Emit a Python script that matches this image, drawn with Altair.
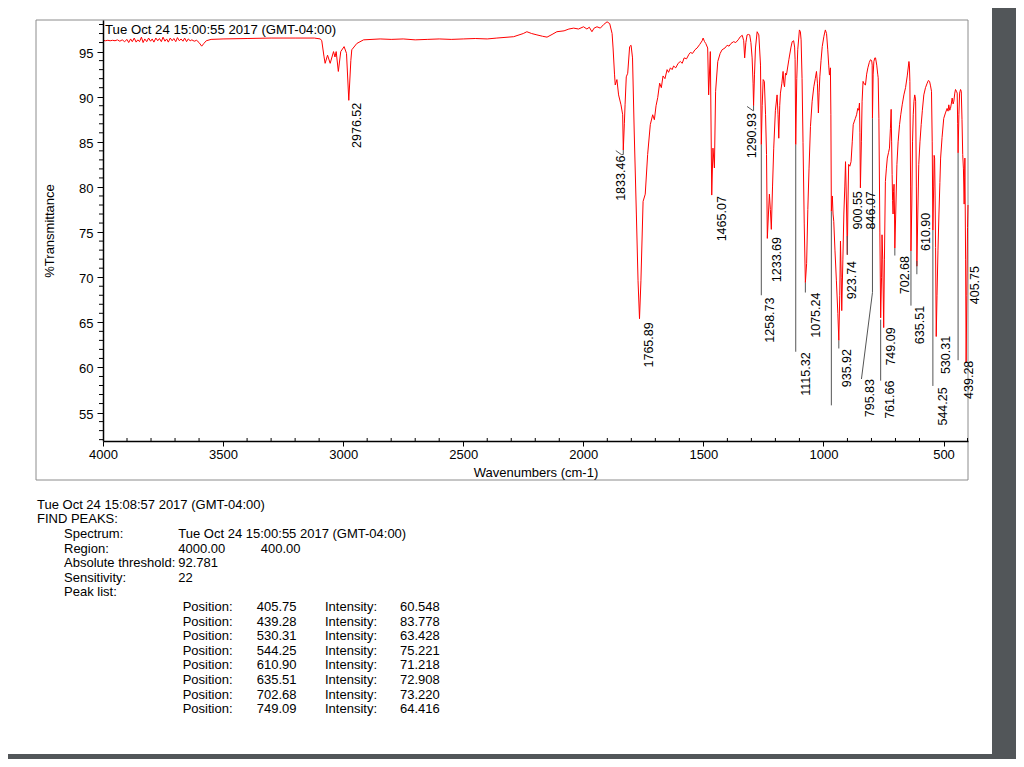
import altair as alt
import pandas as pd

# ---------------- spectrum (wavenumber cm-1, %T) ----------------
wavenumber = [
    4000, 3990, 3980, 3970, 3960, 3950, 3940, 3930, 3920, 3910, 3900, 3893, 3885, 3878, 3870,
    3862, 3855, 3848, 3840, 3833, 3826, 3818, 3810, 3802, 3795, 3788, 3780, 3772, 3765, 3757,
    3750, 3742, 3735, 3728, 3720, 3712, 3705, 3697, 3690, 3682, 3675, 3667, 3660, 3652, 3645,
    3637, 3630, 3620, 3610, 3600, 3589, 3580, 3570, 3550, 3500, 3400, 3300, 3200, 3120, 3095,
    3089, 3080, 3075, 3065, 3054, 3040, 3034, 3029, 3020, 3010, 2996, 2986, 2976.52, 2968, 2964,
    2943, 2915, 2846, 2800, 2750, 2700, 2650, 2600, 2550, 2500, 2450, 2400, 2360, 2290, 2250,
    2235, 2215, 2193, 2170, 2151, 2130, 2110, 2080, 2060, 2040, 2020, 1999, 1985, 1975, 1964,
    1955, 1943, 1929, 1915, 1901, 1890, 1880, 1876, 1870, 1867, 1860, 1853, 1843, 1836, 1833.46,
    1829, 1826, 1821, 1815, 1807, 1801, 1795, 1788, 1779, 1772, 1765.89, 1760, 1751, 1742, 1732,
    1721, 1711, 1704, 1697, 1690, 1682, 1675, 1668, 1660, 1651, 1645, 1637, 1630, 1624, 1615,
    1605, 1596, 1588, 1580, 1570, 1560, 1554, 1545, 1535, 1526, 1515, 1505, 1501, 1495, 1490,
    1482, 1478, 1471, 1465.07, 1460, 1454, 1449, 1440, 1430, 1422, 1410, 1401, 1393, 1385, 1374,
    1365, 1355, 1346, 1338, 1332, 1328, 1323, 1318, 1312, 1307, 1302, 1297, 1293, 1290.93, 1287,
    1283, 1276, 1269, 1262, 1258.73, 1255, 1251, 1246, 1241, 1237, 1233.69, 1229, 1225, 1221, 1217,
    1212, 1207, 1200, 1193, 1189, 1186, 1182, 1179, 1173, 1168, 1165, 1162, 1158, 1154, 1144,
    1135, 1130, 1124, 1120, 1118, 1115.32, 1111, 1107, 1100, 1096, 1093, 1089, 1085, 1080, 1075.24,
    1070, 1065, 1060, 1054, 1047, 1040, 1034, 1029, 1025, 1021, 1018, 1015, 1010, 1005, 998,
    992, 987, 982, 978, 975, 971, 969, 967, 963, 960, 957, 952, 946, 940, 935.92,
    932, 929, 926, 923.74, 919, 915, 911, 908, 904, 900.55, 898, 895, 890, 885, 880,
    876, 871, 867, 862, 857, 853, 850, 848, 846.07, 842, 839, 835, 830, 825, 820,
    815, 809, 804, 799, 797, 795.83, 793, 790, 786, 783, 778, 774, 772, 769, 765,
    761.66, 758, 756, 753, 749.09, 746, 742, 738, 734, 729, 725, 721, 718, 716, 714,
    712, 710, 708, 706, 704, 702.68, 699, 694, 689, 683, 678, 672, 665, 658, 651,
    644, 642, 640, 637, 635.51, 632, 629, 626, 623, 620, 618, 616, 613, 610.90, 607,
    603, 598, 593, 588, 582, 575, 568, 563, 558, 554, 550, 547, 544.25, 541, 539,
    537, 535, 533, 530.31, 527, 523, 519, 515, 512, 506, 499, 492, 485, 481, 478,
    474, 471, 467, 464, 460, 457, 453, 450, 446, 443, 441, 439.28, 436, 433, 429,
    426, 423, 420, 417, 414, 412, 411, 408, 405.75, 403, 400, 398,
]
transmittance = [
    96.25, 96.2, 96.25, 96.2, 96.25, 96.2, 96.3, 96.15, 96.3, 96.1, 96.35, 96.0, 96.4, 96.1, 96.5,
    96.05, 96.3, 96.1, 96.6, 96.0, 96.4, 96.1, 96.5, 96.15, 96.4, 96.05, 96.5, 96.2, 96.45, 96.1,
    96.6, 96.15, 96.4, 96.05, 96.5, 96.2, 96.45, 96.1, 96.55, 96.2, 96.4, 96.15, 96.5, 96.1, 96.4,
    96.2, 96.3, 96.15, 96.25, 96.0, 95.6, 95.9, 96.2, 96.35, 96.4, 96.45, 96.5, 96.5, 96.5, 96.4,
    96.2, 94.5, 93.7, 94.6, 93.7, 95.0, 94.4, 95.0, 92.8, 95.0, 95.55, 94.8, 89.6, 94.0, 95.2,
    95.9, 96.3, 96.4, 96.35, 96.4, 96.3, 96.35, 96.4, 96.35, 96.4, 96.45, 96.4, 96.5, 96.65, 97.0,
    97.2, 97.0, 96.85, 96.7, 96.6, 96.9, 97.2, 97.3, 97.5, 97.6, 97.5, 97.75, 97.5, 97.7, 97.2,
    97.6, 97.75, 97.6, 98.0, 98.3, 98.1, 97.0, 95.4, 92.5, 91.3, 91.9, 90.2, 89.1, 88.0, 84.1,
    87.0, 89.1, 92.2, 92.6, 95.55, 95.7, 94.3, 86.2, 77.0, 69.6, 65.4, 69.6, 78.4, 79.2, 83.6,
    86.9, 88.0, 87.45, 89.0, 89.9, 91.5, 91.0, 92.3, 92.0, 93.0, 92.7, 93.2, 93.0, 93.4, 93.2,
    93.7, 93.9, 93.7, 94.3, 94.2, 94.7, 94.9, 94.8, 95.2, 95.4, 95.8, 96.2, 96.5, 96.1, 95.9,
    95.4, 90.2, 95.0, 79.1, 84.3, 82.1, 90.6, 93.9, 94.8, 95.2, 95.4, 95.7, 95.6, 95.9, 96.1,
    96.0, 96.3, 96.65, 96.8, 96.2, 94.3, 96.0, 96.85, 96.9, 96.85, 96.0, 94.3, 91.5, 89.0, 92.5,
    95.4, 97.2, 96.85, 93.5, 84.7, 89.0, 91.9, 91.7, 88.0, 83.6, 74.3, 77.0, 79.2, 77.5, 75.3,
    80.0, 84.3, 88.5, 90.2, 88.0, 85.4, 89.0, 90.4, 91.5, 92.8, 91.5, 91.1, 92.6, 92.4, 94.1,
    95.5, 96.1, 96.2, 95.5, 94.1, 84.7, 92.0, 95.2, 97.4, 97.2, 96.3, 92.0, 84.9, 76.0, 69.4,
    71.5, 77.5, 82.0, 86.7, 89.5, 91.1, 92.0, 92.8, 91.5, 88.2, 90.5, 92.2, 94.0, 95.55, 96.7,
    97.4, 97.0, 95.2, 93.5, 92.4, 93.2, 88.0, 77.3, 79.0, 77.0, 76.2, 73.0, 69.6, 66.0, 63.0,
    68.0, 74.0, 70.0, 66.3, 72.0, 77.0, 80.0, 82.8, 78.0, 72.5, 78.0, 82.5, 82.3, 82.8, 85.0,
    86.9, 87.3, 87.6, 88.0, 88.7, 88.5, 89.3, 86.0, 79.9, 85.0, 89.5, 91.7, 91.4, 91.3, 92.5,
    93.2, 93.8, 94.1, 94.0, 93.5, 87.6, 92.5, 93.9, 94.3, 94.3, 93.5, 92.5, 92.1, 87.6, 75.0,
    65.5, 70.0, 74.7, 72.0, 64.416, 72.0, 80.6, 82.0, 83.2, 83.8, 84.3, 86.5, 88.6, 85.0, 81.4,
    78.5, 77.0, 79.5, 80.3, 77.0, 73.22, 77.0, 82.5, 85.0, 86.9, 88.0, 89.1, 90.2, 91.0, 92.3,
    93.9, 93.5, 91.7, 80.0, 72.908, 78.0, 85.0, 88.0, 89.5, 90.2, 90.0, 89.5, 80.0, 71.218, 77.0,
    82.5, 85.0, 86.9, 88.5, 90.2, 91.0, 91.5, 91.8, 91.7, 91.2, 90.6, 85.0, 75.221, 80.0, 83.5,
    83.2, 79.0, 73.3, 63.428, 68.0, 73.0, 77.0, 80.5, 83.2, 85.5, 87.6, 88.2, 88.7, 88.4, 89.1,
    88.5, 88.7, 89.3, 89.85, 89.2, 89.5, 90.4, 90.8, 90.6, 90.4, 87.0, 83.778, 88.0, 90.4, 90.8,
    90.6, 87.5, 83.6, 82.0, 78.1, 81.0, 83.2, 72.0, 60.548, 68.0, 75.5, 78.0,
]

# ---------------- peak labels (text, anchor wavenumber, %T at label top) ----------------
peak_label_text = [
    "2976.52", "1833.46", "1765.89", "1465.07", "1290.93", "1258.73", "1233.69", "1115.32",
    "1075.24", "935.92", "923.74", "900.55", "846.07", "795.83", "761.66", "749.09",
    "702.68", "635.51", "610.90", "544.25", "530.31", "439.28", "405.75",
]
peak_label_wn = [
    2967.5, 1867.5, 1750.8, 1448.7, 1321.7, 1246.7, 1216.7, 1099.6,
    1057.9, 925.0, 907.9, 881.5, 828.8, 833.0, 746.7, 744.0,
    684.0, 624.6, 596.7, 525.4, 513.0, 419.6, 395.6,
]
peak_label_t = [
    89.33, 83.47, 65.0, 78.98, 88.19, 67.75, 74.45, 61.67,
    68.3, 62.04, 71.8, 79.53, 79.53, 58.72, 58.54, 64.44,
    72.35, 66.82, 77.14, 57.8, 63.5, 60.75, 71.24,
]

# leader lines from peak tips to labels (wavenumber, %T)
leader_lines = [
    [(1833.46, 84.1), (1833.46, 83.59), (1841.7, 83.59), (1864.6, 84.03)],
    [(1290.93, 89.0), (1290.93, 88.45), (1293.0, 88.45), (1318.0, 88.92)],
    [(1258.73, 84.7), (1258.73, 68.0)],
    [(1115.32, 84.7), (1115.32, 61.74)],
    [(1075.24, 69.4), (1075.24, 68.3)],
    [(967.0, 77.3), (967.0, 55.8)],
    [(935.92, 63.0), (935.92, 62.1)],
    [(900.55, 74.56), (900.55, 72.5)],
    [(795.83, 87.6), (795.83, 68.3), (841.7, 58.72)],
    [(761.66, 65.3), (761.66, 58.54)],
    [(702.68, 73.22), (702.68, 72.4)],
    [(635.51, 72.908), (635.51, 66.85)],
    [(610.90, 71.8), (610.90, 70.33)],
    [(544.25, 75.221), (544.25, 57.95)],
    [(439.28, 83.778), (439.28, 60.8)],
]

# ---------------- axes ----------------
x_major_ticks = [4000, 3500, 3000, 2500, 2000, 1500, 1000, 500]
x_minor_ticks = [3900, 3800, 3700, 3600, 3400, 3300, 3200, 3100, 2900, 2800, 2700, 2600,
                 2400, 2300, 2200, 2100, 1900, 1800, 1700, 1600, 1400, 1300, 1200, 1100,
                 900, 800, 700, 600, 400]
y_major_ticks = [55, 60, 65, 70, 75, 80, 85, 90, 95]
y_minor_ticks = [52, 53, 54, 56, 57, 58, 59, 61, 62, 63, 64, 66, 67, 68, 69, 71, 72, 73, 74,
                 76, 77, 78, 79, 81, 82, 83, 84, 86, 87, 88, 89, 91, 92, 93, 94, 96, 97, 98]

spectrum_title = "Tue Oct 24 15:00:55 2017 (GMT-04:00)"
x_title = "Wavenumbers (cm-1)"
y_title = "%Transmittance"

# ---------------- report text below the chart ----------------
report_header = ["Tue Oct 24 15:08:57 2017 (GMT-04:00)", "FIND PEAKS:"]
report_params = ["Spectrum:", "Region:", "Absolute threshold:", "Sensitivity:", "Peak list:"]
report_values = ["Tue Oct 24 15:00:55 2017 (GMT-04:00)", "4000.00", "92.781", "22"]
report_region_end = ["400.00"]
peak_positions = [405.75, 439.28, 530.31, 544.25, 610.90, 635.51, 702.68, 749.09]
peak_intensities = [60.548, 83.778, 63.428, 75.221, 71.218, 72.908, 73.220, 64.416]

# ---------------- data frames ----------------
spec_df = pd.DataFrame({"wn": wavenumber, "T": transmittance})
spec_df["idx"] = range(len(spec_df))
label_df = pd.DataFrame({"label": peak_label_text, "wn": peak_label_wn, "T": peak_label_t})
leader_rows = []
for i, line in enumerate(leader_lines):
    for k, (w, t) in enumerate(line):
        leader_rows.append({"id": i, "k": k, "wn": w, "T": t})
leader_df = pd.DataFrame(leader_rows)
xminor_df = pd.DataFrame({"wn": x_minor_ticks})
yminor_df = pd.DataFrame({"T": y_minor_ticks})

header_df = pd.DataFrame({"row": [0, 1], "text": report_header})
params_df = pd.DataFrame({"row": [2, 3, 4, 5, 6], "text": report_params})
values_df = pd.DataFrame({"row": [2, 3, 4, 5], "text": report_values})
region_df = pd.DataFrame({"row": [3], "text": report_region_end})
peaks_df = pd.DataFrame({
    "row": list(range(7, 7 + len(peak_positions))),
    "pos": peak_positions,
    "inten": peak_intensities,
    "plabel": ["Position:"] * len(peak_positions),
    "ilabel": ["Intensity:"] * len(peak_positions),
})

# ---------------- chart ----------------
FONT = "Liberation Sans"
W, H = 865, 421
xs = alt.Scale(domain=[398, 4000], reverse=True, nice=False, zero=False)
ys = alt.Scale(domain=[51.85, 98.5], nice=False, zero=False)

x_axis = alt.Axis(values=x_major_ticks, format="d", title=x_title, tickSize=5, labelPadding=2,
                  domainColor="black", domainWidth=1.5, tickColor="black", labelColor="black",
                  labelFontSize=13, titleFontSize=13, titleFontWeight="normal", titleColor="black",
                  titleX=432.5, titleY=35, titleBaseline="alphabetic", grid=False,
                  labelFlush=False, labelOverlap=False, zindex=1)
y_axis = alt.Axis(values=y_major_ticks, title=y_title, tickSize=6, labelPadding=4,
                  domainColor="black", domainWidth=1.5, tickColor="black", labelColor="black",
                  labelFontSize=13, titleFontSize=13, titleFontWeight="normal", titleColor="black",
                  titleX=-54, titleY=H / 2, titleAngle=270, titleAlign="center",
                  titleBaseline="middle", grid=False, labelOffset=1.5, labelOverlap=False,
                  zindex=1)


def X():
    return alt.X("wn:Q", scale=xs, axis=x_axis)


def Y():
    return alt.Y("T:Q", scale=ys, axis=y_axis)


page = alt.Chart().mark_rect(fill="white").encode(
    x=alt.value(-100), x2=alt.value(889), y=alt.value(-20), y2=alt.value(734))
frame = alt.Chart().mark_rect(fillOpacity=0, stroke="#8c8c8c", strokeWidth=1).encode(
    x=alt.value(-67), x2=alt.value(W), y=alt.value(0), y2=alt.value(460))

line = alt.Chart(spec_df).mark_line(color="#ff0000", strokeWidth=1).encode(
    x=X(), y=Y(), order="idx:Q")

y_minor = alt.Chart(yminor_df).mark_rule(color="black", strokeWidth=1).encode(
    y=Y(), x=alt.value(-4), x2=alt.value(0))
x_minor = alt.Chart(xminor_df).mark_rule(color="black", strokeWidth=1).encode(
    x=X(), y=alt.value(H - 3), y2=alt.value(H))

leaders = alt.Chart(leader_df).mark_line(color="#555555", strokeWidth=1).encode(
    x=X(), y=Y(), detail="id:N", order="k:Q")

labels = alt.Chart(label_df).mark_text(angle=270, align="right", baseline="top",
                                       fontSize=12.5, color="black").encode(
    x=X(), y=Y(), text="label:N")

title = alt.Chart().mark_text(text=spectrum_title, align="left", baseline="middle",
                              fontSize=13.2, color="black").encode(
    x=alt.value(2), y=alt.value(10))

spectrum = alt.layer(page, frame, line, y_minor, x_minor, leaders, labels, title)

rows = alt.Scale(domain=[0, 14], range=[484.7, 689.3], nice=False, zero=False)


def text_col(df, px, field, fmt=None):
    enc_text = alt.Text(field, format=fmt) if fmt else alt.Text(field)
    return alt.Chart(df).mark_text(align="left", baseline="middle", fontSize=13,
                                   color="black").encode(
        x=alt.value(px), y=alt.Y("row:Q", scale=rows, axis=None), text=enc_text)


report = alt.layer(
    text_col(header_df, -66, "text:N"),
    text_col(params_df, -39, "text:N"),
    text_col(values_df, 75.3, "text:N"),
    text_col(region_df, 157.7, "text:N"),
    text_col(peaks_df, 79.7, "plabel:N"),
    text_col(peaks_df, 153.7, "pos:Q", ".2f"),
    text_col(peaks_df, 222, "ilabel:N"),
    text_col(peaks_df, 297, "inten:Q", ".3f"),
)

chart = alt.layer(spectrum, report).resolve_scale(y="independent").properties(
    width=W, height=H, background="#525659",
    padding={"left": 95, "top": 12, "right": 48, "bottom": 318},
    autosize=alt.AutoSizeParams(type="none"),
).configure(font=FONT).configure_view(strokeWidth=0)

chart.save("out.html", embed_options={"renderer": "svg", "actions": False})
